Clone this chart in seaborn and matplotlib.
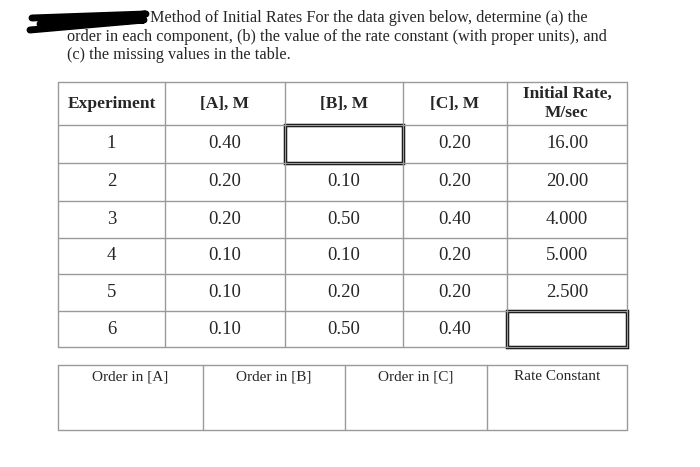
import matplotlib
matplotlib.use("Agg")
import matplotlib.pyplot as plt
import seaborn as sns

sns.set_theme(style="white")
plt.rcParams['font.family'] = ['Liberation Serif', 'DejaVu Serif']

headers = ["Experiment", "[A], M", "[B], M", "[C], M", "Initial Rate,\nM/sec"]
experiments = ["1", "2", "3", "4", "5", "6"]
conc_A = ["0.40", "0.20", "0.20", "0.10", "0.10", "0.10"]
conc_B = ["", "0.10", "0.50", "0.10", "0.20", "0.50"]
conc_C = ["0.20", "0.20", "0.40", "0.20", "0.20", "0.40"]
rates = ["16.00", "20.00", "4.000", "5.000", "2.500", ""]
answer_labels = ["Order in [A]", "Order in [B]", "Order in [C]", "Rate Constant"]
intro_lines = ["Method of Initial Rates For the data given below, determine (a) the",
               "order in each component, (b) the value of the rate constant (with proper units), and",
               "(c) the missing values in the table."]

fig = plt.figure(figsize=(7, 4.67), dpi=100)
ax = fig.add_axes([0, 0, 1, 1])
ax.set_xlim(0, 700); ax.set_ylim(467, 0); ax.axis("off")

ax.plot([32, 146, 40, 144, 30], [18, 14, 24, 20, 30], color="black", lw=5, solid_capstyle="round")
ax.text(150, 18, intro_lines[0], fontsize=11.7, va="center")
ax.text(67, 37, intro_lines[1], fontsize=11.7, va="center")
ax.text(67, 55, intro_lines[2], fontsize=11.7, va="center")

cols = [58, 165, 285, 403, 507, 627]
rows = [82, 125, 163, 201, 238, 274, 311, 347]
gray = "#9a9a9a"
for x in cols:
    ax.plot([x, x], [rows[0], rows[-1]], color=gray, lw=1)
for y in rows:
    ax.plot([cols[0], cols[-1]], [y, y], color=gray, lw=1)

for j, h in enumerate(headers):
    cx = (cols[j] + cols[j + 1]) / 2
    ax.text(cx, (rows[0] + rows[1]) / 2, h, ha="center", va="center",
            fontsize=12.5, fontweight="bold", linespacing=1.2)

data_cols = [experiments, conc_A, conc_B, conc_C, rates]
for j, col in enumerate(data_cols):
    cx = (cols[j] + cols[j + 1]) / 2
    for i, v in enumerate(col):
        cy = (rows[i + 1] + rows[i + 2]) / 2
        if v == "":
            ax.add_patch(plt.Rectangle((cols[j], rows[i + 1]), cols[j + 1] - cols[j],
                                       rows[i + 2] - rows[i + 1], fill=False, ec="black", lw=2.5))
        else:
            ax.text(cx, cy, v, ha="center", va="center", fontsize=13.5)

bcols = [58, 203, 345, 487, 627]
brows = [365, 430]
for x in bcols:
    ax.plot([x, x], brows, color=gray, lw=1)
for y in brows:
    ax.plot([bcols[0], bcols[-1]], [y, y], color=gray, lw=1)
for j, lab in enumerate(answer_labels):
    ax.text((bcols[j] + bcols[j + 1]) / 2, 377, lab, ha="center", va="center", fontsize=11)

fig.savefig("out.png", dpi=100)
